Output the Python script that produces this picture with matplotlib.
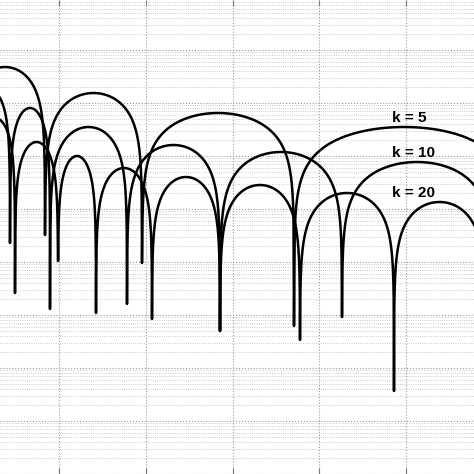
import numpy as np
import matplotlib
matplotlib.use('Agg')
import matplotlib.pyplot as plt

# readings from the picture, in axis units (x: ticks at 1..5, y: log scale)
def px_x(p):
    return (np.asarray(p, float) - 59) / 86.75 + 1

def px_y(p):
    return 10 ** (-(np.asarray(p, float) + 3) / 53)

# each curve: lobe edges (null positions), lobe peak levels, null depths
k5_edges = px_x([-35, 45, 142, 294, 514])
k5_peaks = px_y([67, 93, 113, 127])
k5_nulls = px_y([235, 263, 326])

k10_edges = px_x([-30, 10, 50, 127, 220, 342, 492])
k10_peaks = px_y([90, 108, 127, 145, 152, 162])
k10_nulls = px_y([243, 309, 304, 331, 317])

k20_edges = px_x([-25, 15, 58, 96, 152, 220, 300, 394, 485])
k20_peaks = px_y([118, 142, 156, 168, 177, 185, 193, 202])
k20_nulls = px_y([293, 261, 313, 319, 331, 340, 391])

labels = ['k = 5', 'k = 10', 'k = 20']
label_pos = [(px_x(392), px_y(118)), (px_x(392), px_y(153)), (px_x(392), px_y(193))]

xmin, xmax = px_x(0), px_x(474)


def lobe_curve(edges, peaks, nulls):
    xs, ys = [], []
    for i in range(len(peaks)):
        a, b = edges[i], edges[i + 1]
        t = np.linspace(0, 1, 300)
        x = a + (b - a) * t
        y = peaks[i] * np.abs(np.sin(np.pi * t))
        lo = nulls[i - 1] if i > 0 else 1e-12
        hi = nulls[i] if i < len(nulls) else 1e-12
        floor = np.where(t < 0.5, lo, hi)
        y = np.maximum(y, floor)
        xs.append(x)
        ys.append(y)
    return np.concatenate(xs), np.concatenate(ys)


fig = plt.figure(figsize=(4.74, 4.74), dpi=100)
ax = fig.add_axes([0, 0, 1, 1])
ax.set_yscale('log')
ax.set_xlim(xmin, xmax)
ax.set_ylim(px_y(474), px_y(0))

for edges, peaks, nulls in [(k5_edges, k5_peaks, k5_nulls),
                            (k10_edges, k10_peaks, k10_nulls),
                            (k20_edges, k20_peaks, k20_nulls)]:
    x, y = lobe_curve(edges, peaks, nulls)
    m = (x >= xmin - 0.01) & (x <= xmax + 0.01)
    ax.plot(x[m], y[m], color='black', lw=1.8)

for lab, (lx, ly) in zip(labels, label_pos):
    ax.text(lx, ly, lab, fontsize=11, fontweight='bold', family='Liberation Sans',
            ha='left', va='center')

ax.set_xticks([1, 2, 3, 4, 5])
ax.grid(True, which='major', axis='both', linestyle=':', color='#999999', lw=0.8)
ax.grid(True, which='minor', axis='y', linestyle=':', color='#bbbbbb', lw=0.6)
ax.tick_params(which='both', direction='in', top=True, right=False, left=False,
               labelbottom=False, labelleft=False, length=4, color='#777777')
ax.tick_params(which='minor', length=0)
for s in ax.spines.values():
    s.set_visible(False)

fig.savefig('out.png', dpi=100)
